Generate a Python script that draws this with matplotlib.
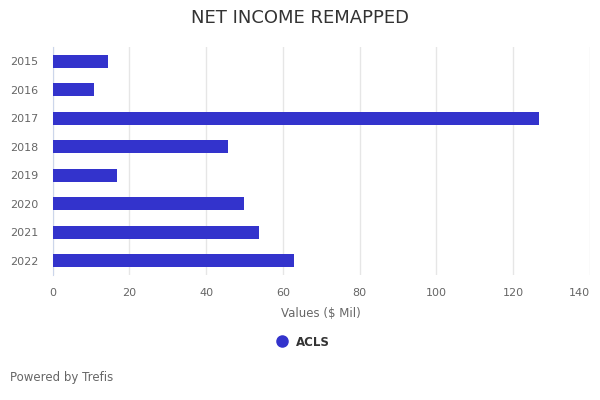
import matplotlib.pyplot as plt
from matplotlib.lines import Line2D

years = ["2015", "2016", "2017", "2018", "2019", "2020", "2021", "2022"]
net_income = [14.4, 10.8, 126.7, 45.7, 16.8, 49.9, 53.8, 62.9]
series_name = "ACLS"

bar_color = "#3333cc"
text_color = "#666666"

fig = plt.figure(figsize=(6, 4), dpi=100)
ax = fig.add_axes([0.0875, 0.3125, 0.8958, 0.57])

ax.barh(range(len(years)), net_income, height=0.46, color=bar_color, zorder=3)
ax.set_yticks(range(len(years)))
ax.set_yticklabels(years)
ax.set_ylim(len(years) - 0.5, -0.5)
ax.set_xlim(0, 140)
ax.set_xticks(range(0, 141, 20))

ax.grid(axis="x", color="#e6e6e6", linewidth=1, zorder=0)
ax.grid(axis="y", visible=False)
for s in ["top", "right", "bottom"]:
    ax.spines[s].set_visible(False)
ax.spines["left"].set_color("#ccd6eb")
ax.tick_params(axis="both", length=0, labelsize=8, labelcolor=text_color)
ax.tick_params(axis="y", pad=10)
ax.tick_params(axis="x", pad=9)
# last label is pulled inside the plot area like in the original
ax.get_xticklabels()[-1].set_horizontalalignment("right")

ax.set_xlabel("Values ($ Mil)", fontsize=8.5, color=text_color, labelpad=7)

fig.text(0.5, 0.955, "NET INCOME REMAPPED", ha="center", va="center",
         fontsize=13, color="#333333")

handle = Line2D([], [], marker="o", linestyle="none", markersize=8,
                color=bar_color)
fig.legend([handle], [series_name], loc="center", bbox_to_anchor=(0.5, 0.145),
           frameon=False, prop={"weight": "bold", "size": 8.5},
           handletextpad=0.1, labelcolor="#333333")

fig.text(0.017, 0.055, "Powered by Trefis", ha="left", va="center",
         fontsize=8.5, color=text_color)

fig.savefig("out.png", dpi=100)
